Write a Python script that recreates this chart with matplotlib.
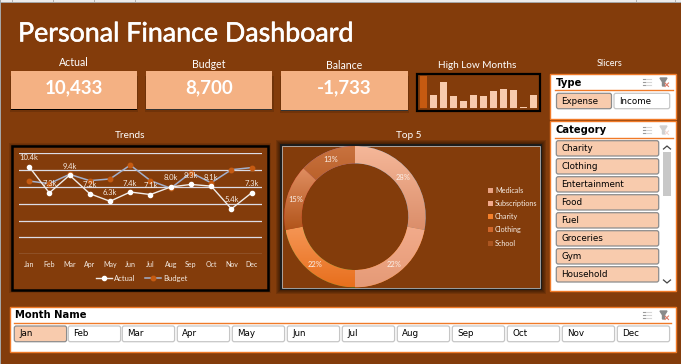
import numpy as np
import matplotlib
matplotlib.use('Agg')
import matplotlib.pyplot as plt
import matplotlib.patheffects as pe
from matplotlib.patches import Rectangle, FancyBboxPatch, Patch

months = ['Jan', 'Feb', 'Mar', 'Apr', 'May', 'Jun', 'Jul', 'Aug', 'Sep', 'Oct', 'Nov', 'Dec']
actual = [10.4, 7.3, 9.4, 7.2, 6.3, 7.4, 7.1, 8.0, 8.3, 8.1, 5.4, 7.3]
budget = [8.7, 8.4, 9.5, 8.75, 8.95, 10.6, 8.75, 7.85, 9.7, 8.5, 10.05, 10.3]
top5_names = ['Medicals', 'Subscriptions', 'Charity', 'Clothing', 'School']
top5_values = [28, 22, 22, 15, 13]
top5_top = ['#f5b799', '#f4ae8e', '#f79c5e', '#df8d60', '#c8723f']
top5_bottom = ['#db8e6a', '#e59a77', '#e86f1d', '#b2551b', '#ac4f14']
top5_legend = ['#e9a283', '#f2a98c', '#f47f2a', '#d0662a', '#ab5520']
kpi_labels = ['Actual', 'Budget', 'Balance']
kpi_values = ['10,433', '8,700', '-1,733']
type_items = ['Expense', 'Income']
category_items = ['Charity', 'Clothing', 'Entertainment', 'Food', 'Fuel', 'Groceries', 'Gym', 'Household']

BROWN = '#833c0b'
CARD = '#f4b183'
PICK = '#f8cbad'
ORANGE = '#f07a28'
W, H = 681, 364
SANS = 'Lato'
UI = 'DejaVu Sans'

fig = plt.figure(figsize=(W / 100, H / 100), dpi=100, facecolor=BROWN)
bg = fig.add_axes([0, 0, 1, 1])
bg.set_xlim(0, W)
bg.set_ylim(H, 0)
bg.axis('off')


def sub_axes(x0, y0, x1, y1):
    # pixel box, y measured from the top
    return fig.add_axes([x0 / W, 1 - y1 / H, (x1 - x0) / W, (y1 - y0) / H], zorder=3)


def rect(x0, y0, x1, y1, fc='none', ec='none', lw=0, z=2, alpha=None):
    bg.add_patch(Rectangle((x0, y0), x1 - x0, y1 - y0, fc=fc, ec=ec, lw=lw, zorder=z, alpha=alpha))


def shadow(x0, y0, x1, y1, size=4, alpha=0.12):
    for i in range(size, 0, -1):
        rect(x0 - i, y0 - i, x1 + i, y1 + i, fc='black', z=1, alpha=alpha)


def button(x0, y0, x1, y1, text, selected):
    fc = PICK if selected else 'white'
    ec = '#8c8c8c' if selected else '#c6c6c6'
    bg.add_patch(FancyBboxPatch((x0 + 2, y0 + 2), x1 - x0 - 4, y1 - y0 - 4,
                                boxstyle='round,pad=2', fc=fc, ec=ec, lw=0.9, zorder=4))
    bg.text(x0 + 5, (y0 + y1) / 2, text, fontsize=6.3, family=UI, color='black',
            ha='left', va='center', zorder=5)


def icons(y, faded=False):
    for dy in (-3, 0, 3):
        bg.plot([643, 645], [y + dy, y + dy], color='#9a9a9a', lw=0.8, zorder=5)
        bg.plot([646, 651], [y + dy, y + dy], color='#d6d6d6', lw=0.8, zorder=5)
    col = '#d0d0d0' if faded else '#8a8a8a'
    bg.fill([660, 667, 664.5, 664.5, 662.5, 662.5], [y - 4, y - 4, y, y + 4, y + 4, y], color=col, zorder=5)
    xcol = '#f0d8d2' if faded else '#e07a66'
    bg.plot([665, 668.5], [y + 1, y + 4.5], color=xcol, lw=0.8, zorder=6)
    bg.plot([665, 668.5], [y + 4.5, y + 1], color=xcol, lw=0.8, zorder=6)


# sheet strip along the top and left
rect(0, 0, W, 2.2, fc='#ececec', z=6)
rect(0, 2.2, W, 3.2, fc='#a6a6a6', z=6)
rect(0, 0, 1.2, H, fc='#a6a6a6', z=6)
for gx in (12, 53, 94, 135, 636, 675):
    rect(gx, 0, gx + 0.8, 2.2, fc='#b4b4b4', z=7)

bg.text(18, 34, 'Personal Finance Dashboard', fontsize=19.3, family=SANS, color='white',
        ha='left', va='center', zorder=5,
        path_effects=[pe.withStroke(linewidth=0.4, foreground='white')])

# KPI cards
card_x = [(11, 136.5), (146, 272), (281, 407.5)]
label_y = [63, 65, 65.5]
card_bottom = [109, 108.5, 109.5]
edge = ['#000000', '#333333', '#333333']
for i in range(3):
    x0, x1 = card_x[i]
    rect(x0 - 1, 76, x1 + 1.5, card_bottom[i] + 3, fc='black', z=1, alpha=0.14)
    rect(x0, card_bottom[i], x1, card_bottom[i] + 1.3, fc=edge[i], z=2)
    rect(x0, 71, x1, card_bottom[i], fc=CARD, z=3)
    bg.text((x0 + x1) / 2, label_y[i], kpi_labels[i], fontsize=7.6, family=SANS, color='white',
            ha='center', va='center', zorder=5)
    bg.text((x0 + x1) / 2, 88, kpi_values[i], fontsize=13.5, family=SANS, weight='bold', color='white',
            ha='center', va='center', zorder=5)

# high / low mini chart
bg.text(476.7, 66, 'High Low Months', fontsize=7.2, family=SANS, color='white', ha='center', va='center')
rect(416.5, 74, 540, 110.5, ec='black', lw=1.6, z=2)
mini = sub_axes(418.3, 74, 538.5, 108)
mini.patch.set_alpha(0)
mini_cols = [PICK] * 12
mini_cols[int(np.argmax(actual))] = '#c55a11'
mini.bar(months, actual, width=0.69, color=mini_cols)
mini.set_xlim(-0.5, 11.5)
mini.set_ylim(5.24, 10.72)
mini.axis('off')

# trends
bg.text(130, 136, 'Trends', fontsize=7.2, family=SANS, color='white', ha='center', va='center')
shadow(12, 145.5, 268, 290, size=3, alpha=0.1)
rect(12, 145.5, 268, 290, fc=BROWN, ec='black', lw=1.8, z=2)
trend = sub_axes(19, 153.3, 261.7, 254.3)
trend.patch.set_alpha(0)
l_act, = trend.plot(months, actual, color='#f0ece8', lw=1, marker='o', ms=3, mfc='white', mec='white', zorder=3)
l_bud, = trend.plot(months, budget, color='#a3b0cc', lw=1.1, marker='o', ms=3.2, mfc='#c55a11', mec='#c55a11', zorder=2)
for i in range(12):
    trend.annotate(f'{actual[i]:.1f}k', (i, actual[i]), xytext=(0, 9), textcoords='offset pixels',
                   fontsize=5.5, family=SANS, color='#f5ebe2', ha='center', va='center', zorder=4,
                   annotation_clip=False)
trend.set_xlim(-0.5, 11.5)
trend.set_ylim(0, 12)
trend.set_yticks(range(0, 13, 2))
trend.grid(axis='y', color='#dcdce6', lw=0.9)
trend.set_axisbelow(True)
trend.tick_params(axis='y', left=False, labelleft=False)
trend.tick_params(axis='x', bottom=False, labelsize=5, labelcolor='#f5ebe2', pad=1.5)
for lab in trend.get_xticklabels():
    lab.set_family(SANS)
for s in trend.spines.values():
    s.set_visible(False)
fig.legend([l_act, l_bud], ['Actual', 'Budget'], loc='center', bbox_to_anchor=(141.7 / W, 1 - 278.3 / H),
           ncol=2, frameon=False, prop={'family': SANS, 'size': 5.5}, labelcolor='#f5ebe2',
           handlelength=2.1, columnspacing=1.2, handletextpad=0.3, borderpad=0)

# top 5 donut
bg.text(409, 135.5, 'Top 5', fontsize=7.2, family=SANS, color='white', ha='center', va='center')
shadow(281, 145, 541, 289, size=5, alpha=0.13)
rect(281, 145, 541, 289, fc=BROWN, ec='#1c1c1c', lw=1.4, z=2)
rect(282.3, 146.3, 539.7, 287.7, ec='#b4b4b4', lw=0.6, z=2)
donut = sub_axes(355 - 72, 216.7 - 72, 355 + 72, 216.7 + 72)
donut.patch.set_alpha(0)
wedges, _ = donut.pie(top5_values, startangle=90, counterclock=False, radius=70.7 / 72,
                      wedgeprops={'width': 17.4 / 72, 'lw': 0})
donut.set_xlim(-1, 1)
donut.set_ylim(-1, 1)
cum = 0
for i, w in enumerate(wedges):
    pts = w.get_path().transformed(w.get_patch_transform()).vertices
    c0 = np.array(matplotlib.colors.to_rgb(top5_top[i]))
    c1 = np.array(matplotlib.colors.to_rgb(top5_bottom[i]))
    ramp = np.linspace(0, 1, 64)[:, None, None] * (c1 - c0) + c0
    im = donut.imshow(ramp, extent=(pts[:, 0].min(), pts[:, 0].max(), pts[:, 1].min(), pts[:, 1].max()),
                      origin='upper', aspect='auto', zorder=2)
    im.set_clip_path(w)
    mid = np.deg2rad(90 - (cum + top5_values[i] / 2) * 3.6)
    cum += top5_values[i]
    r = 62 / 72
    donut.text(r * np.cos(mid), r * np.sin(mid), f'{top5_values[i]}%', fontsize=5.4, family=SANS,
               color='#fbf0e8', ha='center', va='center', zorder=4)
donut.set_xlim(-1, 1)
donut.set_ylim(-1, 1)
donut.set_aspect('equal')
donut.axis('off')
handles = [Patch(fc=c, ec='none') for c in top5_legend]
fig.legend(handles, top5_names, loc='upper left', bbox_to_anchor=(487.5 / W, 1 - 187 / H), frameon=False,
           prop={'family': SANS, 'size': 5.2}, labelcolor='#f5ebe2', labelspacing=0.85,
           handlelength=0.7, handleheight=0.7, handletextpad=0.35, borderpad=0, borderaxespad=0)

# slicers
bg.text(609.5, 63, 'Slicers', fontsize=6.6, family=SANS, color='white', ha='center', va='center')

rect(550.3, 73.5, 676, 119.3, fc='white', ec=ORANGE, lw=1, z=3)
bg.text(556, 82.7, 'Type', fontsize=7.2, family=UI, weight='bold', color='black', va='center', zorder=5)
bg.plot([555, 673], [90.3, 90.3], color=ORANGE, lw=1, zorder=5)
icons(82)
button(556.5, 93.3, 611.5, 108.7, type_items[0], True)
button(614, 93.3, 669.7, 108.7, type_items[1], False)

rect(550.3, 120.7, 676, 290.5, fc='white', ec=ORANGE, lw=1, z=3)
bg.text(556, 130, 'Category', fontsize=7.2, family=UI, weight='bold', color='black', va='center', zorder=5)
bg.plot([555, 673], [138.3, 138.3], color=ORANGE, lw=1, zorder=5)
icons(130, faded=True)
for i, name in enumerate(category_items):
    top = 140.7 + 18 * i
    button(556.3, top, 658.7, top + 15.3, name, True)
rect(662.7, 151.5, 671, 195.7, fc='#c8c8c8', z=4)
bg.plot([663.5, 667, 670.5], [149, 146, 149], color='#444444', lw=0.9, zorder=5)
bg.plot([663.5, 667, 670.5], [280, 283, 280], color='#444444', lw=0.9, zorder=5)

rect(9.5, 306.7, 675.5, 351.7, fc='white', ec=ORANGE, lw=1, z=3)
bg.text(15, 315, 'Month Name', fontsize=7.2, family=UI, weight='bold', color='black', va='center', zorder=5)
bg.plot([14, 671], [323.3, 323.3], color=ORANGE, lw=1, zorder=5)
icons(315)
for i, m in enumerate(months):
    left = 14.3 + 54 * i if i < 3 else 12.3 + 55 * i
    button(left, 326, left + 52.3, 341.7, m, i == 0)

fig.savefig('out.png', dpi=100, facecolor=BROWN)
